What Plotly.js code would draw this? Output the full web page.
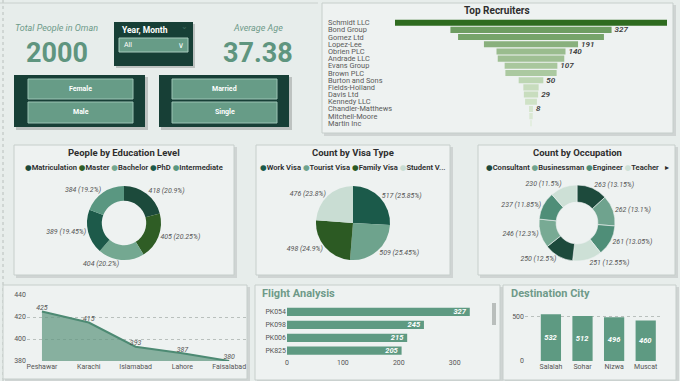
<!DOCTYPE html>
<html><head><meta charset="utf-8">
<script src="https://cdn.plot.ly/plotly-3.0.1.min.js"></script>
<style>html,body{margin:0;padding:0;background:#e7edeb;overflow:hidden}#chart{width:680px;height:381px}</style>
</head><body><div id="chart"></div>
<script>
// ---------------- DATA ----------------
const totalPeople = 2000;
const averageAge = 37.38;
const sliceLabel = 'Year, Month';
const sliceValue = 'All';
const genderOptions = ['Female', 'Male'];
const maritalOptions = ['Married', 'Single'];

const recruiters = ['Schmidt LLC','Bond Group','Gomez Ltd','Lopez-Lee','Obrien PLC','Andrade LLC','Evans Group','Brown PLC','Burton and Sons','Fields-Holland','Davis Ltd','Kennedy LLC','Chandler-Matthews','Mitchell-Moore','Martin Inc'];
const recruiterCounts = [552, 327, 296, 191, 140, 135, 107, 104, 50, 31, 29, 24, 8, 7, 3];
const recruiterLabelled = [false, true, false, true, true, false, true, false, true, false, true, false, true, false, false];

const educationLevels = ['Matriculation', 'Master', 'Bachelor', 'PhD', 'Intermediate'];
const educationCounts = [418, 405, 404, 389, 384];

const visaTypes = ['Work Visa', 'Tourist Visa', 'Family Visa', 'Student Visa'];
const visaCounts = [517, 509, 498, 476];

const occupations = ['Consultant', 'Businessman', 'Engineer', 'Teacher', 'Doctor', 'Lawyer', 'Nurse', 'Architect'];
const occupationCounts = [263, 262, 261, 251, 250, 246, 237, 230];

const originCities = ['Peshawar', 'Karachi', 'Islamabad', 'Lahore', 'Faisalabad'];
const originCounts = [425, 415, 393, 387, 380];

const flights = ['PK054', 'PK098', 'PK006', 'PK825'];
const flightCounts = [327, 245, 215, 205];

const destinations = ['Salalah', 'Sohar', 'Nizwa', 'Muscat'];
const destinationCounts = [532, 512, 496, 460];

// ---------------- STYLE ----------------
const W = 680, H = 381;
const X = px => px / W;
const Y = py => 1 - py / H;
const FONT = 'Roboto, "Open Sans", "DejaVu Sans", sans-serif';
const BG = '#e7edeb', CARD = '#eef2f1', CARD_LINE = '#c6cecb';
const DARK = '#173f36', BTN = '#679c87', BTN_LINE = '#9cc4b4';
const TEAL = '#5f957f';

const recruiterColors = ['#2e6b1f','#6e9d62','#76a46a','#89b07d','#9abc8e','#9fbf93','#a9c79d','#abc9a0','#bdd6b3','#c7dcbd','#c8ddbe','#cfe2c6','#d6e6cf','#dae8d3','#dfecd9'];
const educationColors = ['#1c4a3b', '#2f5d25', '#74a891', '#1d5a4a', '#5a9781'];
const visaColors = ['#1b5a4a', '#6ea38d', '#2c5a23', '#c9ddd3'];
const occupationColors = ['#1d4a3c', '#6fa38e', '#4f8e78', '#cde0d6', '#1d4a3c', '#78aa94', '#4f8e78', '#cde0d6'];

const shapes = [];
const annotations = [];
function rect(x0, y0, x1, y1, fill, line, lw, dash) {
  shapes.push({type: 'rect', xref: 'paper', yref: 'paper', x0: X(x0), x1: X(x1), y0: Y(y1), y1: Y(y0),
    fillcolor: fill, line: {color: line || fill, width: lw === undefined ? 0 : lw, dash: dash || 'solid'}, layer: 'below'});
}
function card(x0, y0, x1, y1) {
  rect(x0 + 2, y0 + 2, x1 + 3, y1 + 3, 'rgba(0,0,0,0.10)');
  rect(x0, y0, x1, y1, CARD, CARD_LINE, 1);
}
function text(t, x, y, opt) {
  opt = opt || {};
  annotations.push({text: t, xref: 'paper', yref: 'paper', x: X(x), y: Y(y), showarrow: false,
    xanchor: opt.xa || 'center', yanchor: 'middle',
    font: {family: opt.family || FONT, size: opt.size || 9, color: opt.color || '#333', weight: opt.weight || 'normal', style: opt.style || 'normal'}});
}
function legend(names, colors, cx, y) {
  const t = names.map((n, i) => `<span style="color:${colors[i]}">●</span>${n}`).join(' ');
  text(t, cx, y, {size: 7.6, color: '#2b2b2b', weight: 600});
}

// page frame lines
shapes.push({type: 'line', xref: 'paper', yref: 'paper', x0: X(3), x1: X(3), y0: 0, y1: 1, line: {color: '#b8bfbc', width: 1, dash: 'dot'}, layer: 'below'});
shapes.push({type: 'line', xref: 'paper', yref: 'paper', x0: 0, x1: X(318), y0: Y(3), y1: Y(3), line: {color: '#c9d0cd', width: 1}, layer: 'below'});

// KPI texts
text('Total People in Oman', 57, 28, {style: 'italic', color: '#6e9a89', size: 9});
text(String(totalPeople), 57, 53, {size: 27, weight: 'bold', color: TEAL});
text('Average Age', 258, 28, {style: 'italic', color: '#6e9a89', size: 9});
text(averageAge.toFixed(2), 258, 53, {size: 27, weight: 'bold', color: TEAL});

// slicer
rect(116, 24, 195, 68, 'rgba(0,0,0,0.18)');
rect(114, 22, 193, 66, DARK);
text(sliceLabel, 120, 30, {xa: 'left', size: 8.5, weight: 'bold', color: '#ffffff'});
text('⌄', 184, 27, {size: 8, color: '#3f6a5f'});
rect(119, 38, 188, 52, BTN, '#a9cbbd', 1);
text(sliceValue, 122, 45, {xa: 'left', size: 7, color: '#ffffff'});
text('∨', 181, 45, {size: 8, color: '#ffffff'});

// gender / marital button groups
function buttonGroup(x0, x1, bx0, bx1, opts) {
  rect(x0 + 2, 77, x1 + 3, 130, 'rgba(0,0,0,0.18)');
  rect(x0, 75, x1, 127, DARK);
  rect(bx0, 79, bx1, 99, BTN, BTN_LINE, 1);
  rect(bx0, 102, bx1, 123, BTN, BTN_LINE, 1);
  text(opts[0], (bx0 + bx1) / 2, 89, {size: 7, weight: 'bold', color: '#ffffff'});
  text(opts[1], (bx0 + bx1) / 2, 112.5, {size: 7, weight: 'bold', color: '#ffffff'});
}
buttonGroup(14, 145, 28, 133, genderOptions);
buttonGroup(159, 289, 172, 277, maritalOptions);

// cards
card(322, 3, 673, 133);
card(14, 145, 234, 275);
card(256, 145, 450, 275);
card(478, 145, 675, 275);
card(3, 285, 247, 379);
card(255, 285, 500, 380);
card(503, 285, 676, 380);

// titles
text('Top Recruiters', 497, 10, {size: 10, weight: 'bold', color: '#2e2e2e'});
text('People by Education Level', 124, 153, {size: 9.5, weight: 'bold', color: '#2e2e2e'});
text('Count by Visa Type', 353, 153, {size: 9.5, weight: 'bold', color: '#2e2e2e'});
text('Count by Occupation', 577, 153, {size: 9.5, weight: 'bold', color: '#2e2e2e'});
text('Flight Analysis', 260, 293, {xa: 'left', size: 11, weight: 'bold', color: '#6e9a89'});
text('Destination City', 509, 293, {xa: 'left', size: 11, weight: 'bold', color: '#6e9a89'});

// legends
legend(educationLevels, educationColors, 124, 167);
legend(visaTypes.map((n, i) => i === visaTypes.length - 1 ? n.slice(0, 9) + '...' : n), visaColors, 352, 167);
legend(occupations.slice(0, 4), occupationColors, 572, 167);
text('▸', 667, 167, {size: 8, color: '#2b2b2b'});

// flight scrollbar
rect(492, 303, 496, 325, '#b9bebc');

// recruiter labels (left aligned)
recruiters.forEach(r => annotations.push({text: r, xref: 'paper', yref: 'y', x: X(326), y: r, xanchor: 'left', yanchor: 'middle',
  showarrow: false, font: {family: FONT, size: 7.4, color: '#5a5a5a'}}));

const pieText = {family: FONT, size: 7, color: '#555', style: 'italic'};

const data = [
  {type: 'funnel', y: recruiters, x: recruiterCounts, xaxis: 'x', yaxis: 'y',
   text: recruiterCounts.map((v, i) => recruiterLabelled[i] ? String(v) : ''), textinfo: 'text', textposition: 'outside',
   constraintext: 'none', textangle: 0,
   textfont: {family: FONT, size: 8, color: '#3a3a3a', style: 'italic', weight: 600},
   marker: {color: recruiterColors, line: {width: 0}}, connector: {visible: false}, cliponaxis: false, hoverinfo: 'skip'},

  {type: 'pie', labels: educationLevels, values: educationCounts, sort: false, direction: 'clockwise', rotation: 0,
   hole: 0.6, domain: {x: [X(87), X(161)], y: [Y(260), Y(186)]},
   marker: {colors: educationColors, line: {width: 0}}, textposition: 'outside',
   texttemplate: '%{value} (%{percent:.2~%})', textfont: pieText, showlegend: false, hoverinfo: 'skip'},

  {type: 'pie', labels: visaTypes, values: visaCounts, sort: false, direction: 'clockwise', rotation: 0,
   domain: {x: [X(316), X(390)], y: [Y(260), Y(186)]},
   marker: {colors: visaColors, line: {width: 0}}, textposition: 'outside',
   texttemplate: '%{value} (%{percent:.2~%})', textfont: pieText, showlegend: false, hoverinfo: 'skip'},

  {type: 'pie', labels: occupations, values: occupationCounts, sort: false, direction: 'clockwise', rotation: 0,
   hole: 0.55, domain: {x: [X(539), X(615)], y: [Y(261), Y(185)]},
   marker: {colors: occupationColors, line: {width: 0.6, color: CARD}}, textposition: 'outside',
   texttemplate: '%{value} (%{percent:.2~%})', textfont: pieText, showlegend: false, hoverinfo: 'skip'},

  {type: 'scatter', x: originCities, y: originCounts, xaxis: 'x2', yaxis: 'y2', mode: 'lines+text',
   text: originCounts.map(String), textposition: 'top center', textfont: {family: FONT, size: 7, color: '#555', style: 'italic'},
   line: {color: '#4d8a73', width: 2}, fill: 'tozeroy', fillcolor: 'rgba(96,150,128,0.72)', cliponaxis: false, hoverinfo: 'skip'},

  {type: 'bar', orientation: 'h', y: flights, x: flightCounts, xaxis: 'x3', yaxis: 'y3',
   marker: {color: '#5e9a82'}, text: flightCounts.map(String), textposition: 'inside', insidetextanchor: 'end',
   constraintext: 'none', textangle: 0,
   textfont: {family: FONT, size: 7.5, color: '#ffffff', style: 'italic', weight: 'bold'}, hoverinfo: 'skip'},

  {type: 'bar', x: destinations, y: destinationCounts, xaxis: 'x4', yaxis: 'y4',
   marker: {color: '#5e9a82'}, text: destinationCounts.map(String), textposition: 'inside', insidetextanchor: 'middle',
   constraintext: 'none', textangle: 0,
   textfont: {family: FONT, size: 7.5, color: '#ffffff', style: 'italic', weight: 'bold'}, hoverinfo: 'skip'}
];

const tickFont = {family: FONT, size: 7, color: '#555'};
const layout = {
  width: W, height: H, margin: {l: 0, r: 0, t: 0, b: 0}, autosize: false,
  paper_bgcolor: BG, plot_bgcolor: 'rgba(0,0,0,0)', showlegend: false,
  font: {family: FONT}, funnelgap: 0.16, bargap: 0.36, shapes: shapes, annotations: annotations,
  xaxis: {domain: [X(395), X(667)], range: [-276, 276], visible: false, anchor: 'y', fixedrange: true},
  yaxis: {domain: [Y(129.8), Y(16.2)], autorange: 'reversed', showticklabels: false, showgrid: false, zeroline: false, anchor: 'x', fixedrange: true},
  xaxis2: {domain: [X(27), X(246)], range: [-0.32, 4.36], anchor: 'y2', showgrid: false, zeroline: false, tickfont: tickFont, ticks: '', fixedrange: true},
  yaxis2: {domain: [Y(361), Y(295)], range: [380, 440], anchor: 'x2', dtick: 20, showgrid: true, gridcolor: '#b9c0bd', griddash: 'dot',
           zeroline: false, tickfont: tickFont, ticks: '', fixedrange: true},
  xaxis3: {domain: [X(287), X(487)], range: [0, 357.8], anchor: 'y3', showgrid: false, zeroline: false, tickvals: [0, 100, 200, 300],
           tickfont: tickFont, ticks: '', fixedrange: true},
  yaxis3: {domain: [Y(357.2), Y(305.5)], anchor: 'x3', autorange: 'reversed', showgrid: false, tickfont: tickFont, ticks: '', fixedrange: true},
  xaxis4: {domain: [X(525), X(661.5)], range: [-0.82, 3.5], anchor: 'y4', showgrid: false, zeroline: false, tickfont: tickFont, ticks: '', fixedrange: true},
  yaxis4: {domain: [Y(361), Y(308)], range: [0, 602], anchor: 'x4', tickvals: [0, 500], showgrid: true, gridcolor: '#b9c0bd', griddash: 'dot',
           zeroline: false, tickfont: tickFont, ticks: '', fixedrange: true}
};
Plotly.newPlot('chart', data, layout, {staticPlot: true, displayModeBar: false});
</script></body></html>
